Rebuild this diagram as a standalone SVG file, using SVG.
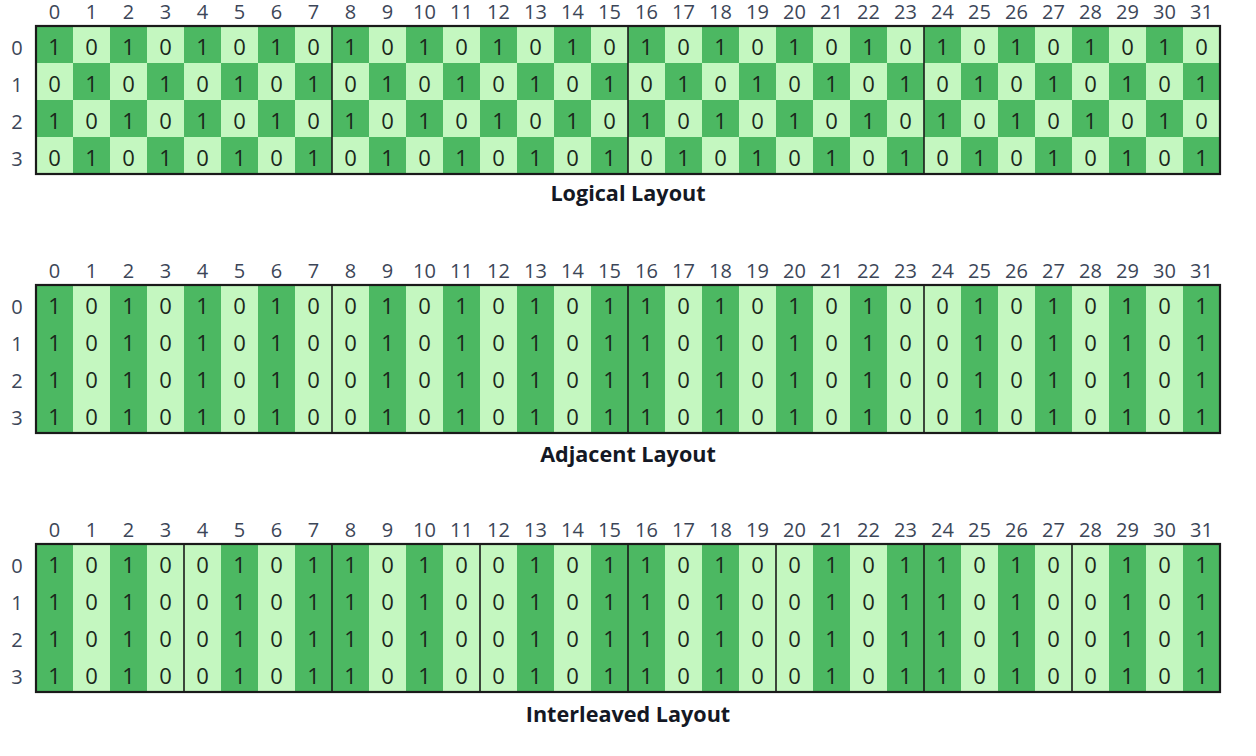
<svg xmlns="http://www.w3.org/2000/svg" width="1256" height="756" viewBox="0 0 1256 756">
<style>
text{font-family:"Open Sans","Liberation Sans",sans-serif;font-size:20px;text-anchor:middle}
.d{fill:#1a261b}
.d text{font-size:22px}
.h{fill:#3c4658}
.t{font-weight:bold;fill:#141824;font-size:21.6px}
.dk{fill:#4cb862}
.frame{fill:none;stroke:#1a1a1a;stroke-width:2.2}
.sep{stroke:#1a1a1a;stroke-width:1.6}
</style>
<defs>
<pattern id="chk" x="36" y="26" width="74" height="74" patternUnits="userSpaceOnUse">
<rect width="74" height="74" fill="#c4f7c0"/>
<rect width="37" height="37" fill="#4cb862"/>
<rect x="37" y="37" width="37" height="37" fill="#4cb862"/>
</pattern>
</defs>
<rect width="1256" height="756" fill="#ffffff"/>

<!-- ===== Logical Layout ===== -->
<g id="logical">
<rect x="36" y="26" width="1184" height="148" fill="url(#chk)"/>
<g class="h" transform="translate(0,18.5)">
<text x="54.5">0</text><text x="91.5">1</text><text x="128.5">2</text><text x="165.5">3</text><text x="202.5">4</text><text x="239.5">5</text><text x="276.5">6</text><text x="313.5">7</text><text x="350.5">8</text><text x="387.5">9</text><text x="424.5">10</text><text x="461.5">11</text><text x="498.5">12</text><text x="535.5">13</text><text x="572.5">14</text><text x="609.5">15</text><text x="646.5">16</text><text x="683.5">17</text><text x="720.5">18</text><text x="757.5">19</text><text x="794.5">20</text><text x="831.5">21</text><text x="868.5">22</text><text x="905.5">23</text><text x="942.5">24</text><text x="979.5">25</text><text x="1016.5">26</text><text x="1053.5">27</text><text x="1090.5">28</text><text x="1127.5">29</text><text x="1164.5">30</text><text x="1201.5">31</text>
</g>
<g class="h">
<text x="17" y="54.5">0</text><text x="17" y="91.5">1</text><text x="17" y="128.5">2</text><text x="17" y="165.5">3</text>
</g>
<g class="d" transform="translate(0,54.5)">
<text x="54.5">1</text><text x="91.5">0</text><text x="128.5">1</text><text x="165.5">0</text><text x="202.5">1</text><text x="239.5">0</text><text x="276.5">1</text><text x="313.5">0</text><text x="350.5">1</text><text x="387.5">0</text><text x="424.5">1</text><text x="461.5">0</text><text x="498.5">1</text><text x="535.5">0</text><text x="572.5">1</text><text x="609.5">0</text><text x="646.5">1</text><text x="683.5">0</text><text x="720.5">1</text><text x="757.5">0</text><text x="794.5">1</text><text x="831.5">0</text><text x="868.5">1</text><text x="905.5">0</text><text x="942.5">1</text><text x="979.5">0</text><text x="1016.5">1</text><text x="1053.5">0</text><text x="1090.5">1</text><text x="1127.5">0</text><text x="1164.5">1</text><text x="1201.5">0</text>
</g>
<g class="d" transform="translate(0,91.5)">
<text x="54.5">0</text><text x="91.5">1</text><text x="128.5">0</text><text x="165.5">1</text><text x="202.5">0</text><text x="239.5">1</text><text x="276.5">0</text><text x="313.5">1</text><text x="350.5">0</text><text x="387.5">1</text><text x="424.5">0</text><text x="461.5">1</text><text x="498.5">0</text><text x="535.5">1</text><text x="572.5">0</text><text x="609.5">1</text><text x="646.5">0</text><text x="683.5">1</text><text x="720.5">0</text><text x="757.5">1</text><text x="794.5">0</text><text x="831.5">1</text><text x="868.5">0</text><text x="905.5">1</text><text x="942.5">0</text><text x="979.5">1</text><text x="1016.5">0</text><text x="1053.5">1</text><text x="1090.5">0</text><text x="1127.5">1</text><text x="1164.5">0</text><text x="1201.5">1</text>
</g>
<g class="d" transform="translate(0,128.5)">
<text x="54.5">1</text><text x="91.5">0</text><text x="128.5">1</text><text x="165.5">0</text><text x="202.5">1</text><text x="239.5">0</text><text x="276.5">1</text><text x="313.5">0</text><text x="350.5">1</text><text x="387.5">0</text><text x="424.5">1</text><text x="461.5">0</text><text x="498.5">1</text><text x="535.5">0</text><text x="572.5">1</text><text x="609.5">0</text><text x="646.5">1</text><text x="683.5">0</text><text x="720.5">1</text><text x="757.5">0</text><text x="794.5">1</text><text x="831.5">0</text><text x="868.5">1</text><text x="905.5">0</text><text x="942.5">1</text><text x="979.5">0</text><text x="1016.5">1</text><text x="1053.5">0</text><text x="1090.5">1</text><text x="1127.5">0</text><text x="1164.5">1</text><text x="1201.5">0</text>
</g>
<g class="d" transform="translate(0,165.5)">
<text x="54.5">0</text><text x="91.5">1</text><text x="128.5">0</text><text x="165.5">1</text><text x="202.5">0</text><text x="239.5">1</text><text x="276.5">0</text><text x="313.5">1</text><text x="350.5">0</text><text x="387.5">1</text><text x="424.5">0</text><text x="461.5">1</text><text x="498.5">0</text><text x="535.5">1</text><text x="572.5">0</text><text x="609.5">1</text><text x="646.5">0</text><text x="683.5">1</text><text x="720.5">0</text><text x="757.5">1</text><text x="794.5">0</text><text x="831.5">1</text><text x="868.5">0</text><text x="905.5">1</text><text x="942.5">0</text><text x="979.5">1</text><text x="1016.5">0</text><text x="1053.5">1</text><text x="1090.5">0</text><text x="1127.5">1</text><text x="1164.5">0</text><text x="1201.5">1</text>
</g>
<line class="sep" x1="332" y1="26" x2="332" y2="174"/>
<line class="sep" x1="628" y1="26" x2="628" y2="174"/>
<line class="sep" x1="924" y1="26" x2="924" y2="174"/>
<rect class="frame" x="36" y="26" width="1184" height="148"/>
<text class="t" x="628" y="200.5">Logical Layout</text>
</g>

<!-- ===== Adjacent Layout ===== -->
<g id="adjacent">
<rect x="36" y="285" width="1184" height="148" fill="#c4f7c0"/>
<g class="dk">
<rect x="36" y="285" width="37" height="148"/><rect x="110" y="285" width="37" height="148"/><rect x="184" y="285" width="37" height="148"/><rect x="258" y="285" width="37" height="148"/>
<rect x="369" y="285" width="37" height="148"/><rect x="443" y="285" width="37" height="148"/><rect x="517" y="285" width="37" height="148"/><rect x="591" y="285" width="37" height="148"/>
<rect x="628" y="285" width="37" height="148"/><rect x="702" y="285" width="37" height="148"/><rect x="776" y="285" width="37" height="148"/><rect x="850" y="285" width="37" height="148"/>
<rect x="961" y="285" width="37" height="148"/><rect x="1035" y="285" width="37" height="148"/><rect x="1109" y="285" width="37" height="148"/><rect x="1183" y="285" width="37" height="148"/>
</g>
<g class="h" transform="translate(0,277.5)">
<text x="54.5">0</text><text x="91.5">1</text><text x="128.5">2</text><text x="165.5">3</text><text x="202.5">4</text><text x="239.5">5</text><text x="276.5">6</text><text x="313.5">7</text><text x="350.5">8</text><text x="387.5">9</text><text x="424.5">10</text><text x="461.5">11</text><text x="498.5">12</text><text x="535.5">13</text><text x="572.5">14</text><text x="609.5">15</text><text x="646.5">16</text><text x="683.5">17</text><text x="720.5">18</text><text x="757.5">19</text><text x="794.5">20</text><text x="831.5">21</text><text x="868.5">22</text><text x="905.5">23</text><text x="942.5">24</text><text x="979.5">25</text><text x="1016.5">26</text><text x="1053.5">27</text><text x="1090.5">28</text><text x="1127.5">29</text><text x="1164.5">30</text><text x="1201.5">31</text>
</g>
<g class="h">
<text x="17" y="313.5">0</text><text x="17" y="350.5">1</text><text x="17" y="387.5">2</text><text x="17" y="424.5">3</text>
</g>
<g class="d" transform="translate(0,313.5)">
<text x="54.5">1</text><text x="91.5">0</text><text x="128.5">1</text><text x="165.5">0</text><text x="202.5">1</text><text x="239.5">0</text><text x="276.5">1</text><text x="313.5">0</text><text x="350.5">0</text><text x="387.5">1</text><text x="424.5">0</text><text x="461.5">1</text><text x="498.5">0</text><text x="535.5">1</text><text x="572.5">0</text><text x="609.5">1</text><text x="646.5">1</text><text x="683.5">0</text><text x="720.5">1</text><text x="757.5">0</text><text x="794.5">1</text><text x="831.5">0</text><text x="868.5">1</text><text x="905.5">0</text><text x="942.5">0</text><text x="979.5">1</text><text x="1016.5">0</text><text x="1053.5">1</text><text x="1090.5">0</text><text x="1127.5">1</text><text x="1164.5">0</text><text x="1201.5">1</text>
</g>
<g class="d" transform="translate(0,350.5)">
<text x="54.5">1</text><text x="91.5">0</text><text x="128.5">1</text><text x="165.5">0</text><text x="202.5">1</text><text x="239.5">0</text><text x="276.5">1</text><text x="313.5">0</text><text x="350.5">0</text><text x="387.5">1</text><text x="424.5">0</text><text x="461.5">1</text><text x="498.5">0</text><text x="535.5">1</text><text x="572.5">0</text><text x="609.5">1</text><text x="646.5">1</text><text x="683.5">0</text><text x="720.5">1</text><text x="757.5">0</text><text x="794.5">1</text><text x="831.5">0</text><text x="868.5">1</text><text x="905.5">0</text><text x="942.5">0</text><text x="979.5">1</text><text x="1016.5">0</text><text x="1053.5">1</text><text x="1090.5">0</text><text x="1127.5">1</text><text x="1164.5">0</text><text x="1201.5">1</text>
</g>
<g class="d" transform="translate(0,387.5)">
<text x="54.5">1</text><text x="91.5">0</text><text x="128.5">1</text><text x="165.5">0</text><text x="202.5">1</text><text x="239.5">0</text><text x="276.5">1</text><text x="313.5">0</text><text x="350.5">0</text><text x="387.5">1</text><text x="424.5">0</text><text x="461.5">1</text><text x="498.5">0</text><text x="535.5">1</text><text x="572.5">0</text><text x="609.5">1</text><text x="646.5">1</text><text x="683.5">0</text><text x="720.5">1</text><text x="757.5">0</text><text x="794.5">1</text><text x="831.5">0</text><text x="868.5">1</text><text x="905.5">0</text><text x="942.5">0</text><text x="979.5">1</text><text x="1016.5">0</text><text x="1053.5">1</text><text x="1090.5">0</text><text x="1127.5">1</text><text x="1164.5">0</text><text x="1201.5">1</text>
</g>
<g class="d" transform="translate(0,424.5)">
<text x="54.5">1</text><text x="91.5">0</text><text x="128.5">1</text><text x="165.5">0</text><text x="202.5">1</text><text x="239.5">0</text><text x="276.5">1</text><text x="313.5">0</text><text x="350.5">0</text><text x="387.5">1</text><text x="424.5">0</text><text x="461.5">1</text><text x="498.5">0</text><text x="535.5">1</text><text x="572.5">0</text><text x="609.5">1</text><text x="646.5">1</text><text x="683.5">0</text><text x="720.5">1</text><text x="757.5">0</text><text x="794.5">1</text><text x="831.5">0</text><text x="868.5">1</text><text x="905.5">0</text><text x="942.5">0</text><text x="979.5">1</text><text x="1016.5">0</text><text x="1053.5">1</text><text x="1090.5">0</text><text x="1127.5">1</text><text x="1164.5">0</text><text x="1201.5">1</text>
</g>
<line class="sep" x1="332" y1="285" x2="332" y2="433"/>
<line class="sep" x1="628" y1="285" x2="628" y2="433"/>
<line class="sep" x1="924" y1="285" x2="924" y2="433"/>
<rect class="frame" x="36" y="285" width="1184" height="148"/>
<text class="t" x="628" y="461.5">Adjacent Layout</text>
</g>

<!-- ===== Interleaved Layout ===== -->
<g id="interleaved">
<rect x="36" y="544" width="1184" height="148" fill="#c4f7c0"/>
<g class="dk">
<rect x="36" y="544" width="37" height="148"/><rect x="110" y="544" width="37" height="148"/><rect x="221" y="544" width="37" height="148"/><rect x="295" y="544" width="37" height="148"/>
<rect x="332" y="544" width="37" height="148"/><rect x="406" y="544" width="37" height="148"/><rect x="517" y="544" width="37" height="148"/><rect x="591" y="544" width="37" height="148"/>
<rect x="628" y="544" width="37" height="148"/><rect x="702" y="544" width="37" height="148"/><rect x="813" y="544" width="37" height="148"/><rect x="887" y="544" width="37" height="148"/>
<rect x="924" y="544" width="37" height="148"/><rect x="998" y="544" width="37" height="148"/><rect x="1109" y="544" width="37" height="148"/><rect x="1183" y="544" width="37" height="148"/>
</g>
<g class="h" transform="translate(0,536.5)">
<text x="54.5">0</text><text x="91.5">1</text><text x="128.5">2</text><text x="165.5">3</text><text x="202.5">4</text><text x="239.5">5</text><text x="276.5">6</text><text x="313.5">7</text><text x="350.5">8</text><text x="387.5">9</text><text x="424.5">10</text><text x="461.5">11</text><text x="498.5">12</text><text x="535.5">13</text><text x="572.5">14</text><text x="609.5">15</text><text x="646.5">16</text><text x="683.5">17</text><text x="720.5">18</text><text x="757.5">19</text><text x="794.5">20</text><text x="831.5">21</text><text x="868.5">22</text><text x="905.5">23</text><text x="942.5">24</text><text x="979.5">25</text><text x="1016.5">26</text><text x="1053.5">27</text><text x="1090.5">28</text><text x="1127.5">29</text><text x="1164.5">30</text><text x="1201.5">31</text>
</g>
<g class="h">
<text x="17" y="572.5">0</text><text x="17" y="609.5">1</text><text x="17" y="646.5">2</text><text x="17" y="683.5">3</text>
</g>
<g class="d" transform="translate(0,572.5)">
<text x="54.5">1</text><text x="91.5">0</text><text x="128.5">1</text><text x="165.5">0</text><text x="202.5">0</text><text x="239.5">1</text><text x="276.5">0</text><text x="313.5">1</text><text x="350.5">1</text><text x="387.5">0</text><text x="424.5">1</text><text x="461.5">0</text><text x="498.5">0</text><text x="535.5">1</text><text x="572.5">0</text><text x="609.5">1</text><text x="646.5">1</text><text x="683.5">0</text><text x="720.5">1</text><text x="757.5">0</text><text x="794.5">0</text><text x="831.5">1</text><text x="868.5">0</text><text x="905.5">1</text><text x="942.5">1</text><text x="979.5">0</text><text x="1016.5">1</text><text x="1053.5">0</text><text x="1090.5">0</text><text x="1127.5">1</text><text x="1164.5">0</text><text x="1201.5">1</text>
</g>
<g class="d" transform="translate(0,609.5)">
<text x="54.5">1</text><text x="91.5">0</text><text x="128.5">1</text><text x="165.5">0</text><text x="202.5">0</text><text x="239.5">1</text><text x="276.5">0</text><text x="313.5">1</text><text x="350.5">1</text><text x="387.5">0</text><text x="424.5">1</text><text x="461.5">0</text><text x="498.5">0</text><text x="535.5">1</text><text x="572.5">0</text><text x="609.5">1</text><text x="646.5">1</text><text x="683.5">0</text><text x="720.5">1</text><text x="757.5">0</text><text x="794.5">0</text><text x="831.5">1</text><text x="868.5">0</text><text x="905.5">1</text><text x="942.5">1</text><text x="979.5">0</text><text x="1016.5">1</text><text x="1053.5">0</text><text x="1090.5">0</text><text x="1127.5">1</text><text x="1164.5">0</text><text x="1201.5">1</text>
</g>
<g class="d" transform="translate(0,646.5)">
<text x="54.5">1</text><text x="91.5">0</text><text x="128.5">1</text><text x="165.5">0</text><text x="202.5">0</text><text x="239.5">1</text><text x="276.5">0</text><text x="313.5">1</text><text x="350.5">1</text><text x="387.5">0</text><text x="424.5">1</text><text x="461.5">0</text><text x="498.5">0</text><text x="535.5">1</text><text x="572.5">0</text><text x="609.5">1</text><text x="646.5">1</text><text x="683.5">0</text><text x="720.5">1</text><text x="757.5">0</text><text x="794.5">0</text><text x="831.5">1</text><text x="868.5">0</text><text x="905.5">1</text><text x="942.5">1</text><text x="979.5">0</text><text x="1016.5">1</text><text x="1053.5">0</text><text x="1090.5">0</text><text x="1127.5">1</text><text x="1164.5">0</text><text x="1201.5">1</text>
</g>
<g class="d" transform="translate(0,683.5)">
<text x="54.5">1</text><text x="91.5">0</text><text x="128.5">1</text><text x="165.5">0</text><text x="202.5">0</text><text x="239.5">1</text><text x="276.5">0</text><text x="313.5">1</text><text x="350.5">1</text><text x="387.5">0</text><text x="424.5">1</text><text x="461.5">0</text><text x="498.5">0</text><text x="535.5">1</text><text x="572.5">0</text><text x="609.5">1</text><text x="646.5">1</text><text x="683.5">0</text><text x="720.5">1</text><text x="757.5">0</text><text x="794.5">0</text><text x="831.5">1</text><text x="868.5">0</text><text x="905.5">1</text><text x="942.5">1</text><text x="979.5">0</text><text x="1016.5">1</text><text x="1053.5">0</text><text x="1090.5">0</text><text x="1127.5">1</text><text x="1164.5">0</text><text x="1201.5">1</text>
</g>
<line class="sep" x1="184" y1="544" x2="184" y2="692"/>
<line class="sep" x1="332" y1="544" x2="332" y2="692"/>
<line class="sep" x1="480" y1="544" x2="480" y2="692"/>
<line class="sep" x1="628" y1="544" x2="628" y2="692"/>
<line class="sep" x1="776" y1="544" x2="776" y2="692"/>
<line class="sep" x1="924" y1="544" x2="924" y2="692"/>
<line class="sep" x1="1072" y1="544" x2="1072" y2="692"/>
<rect class="frame" x="36" y="544" width="1184" height="148"/>
<text class="t" x="628" y="721.5">Interleaved Layout</text>
</g>
</svg>
